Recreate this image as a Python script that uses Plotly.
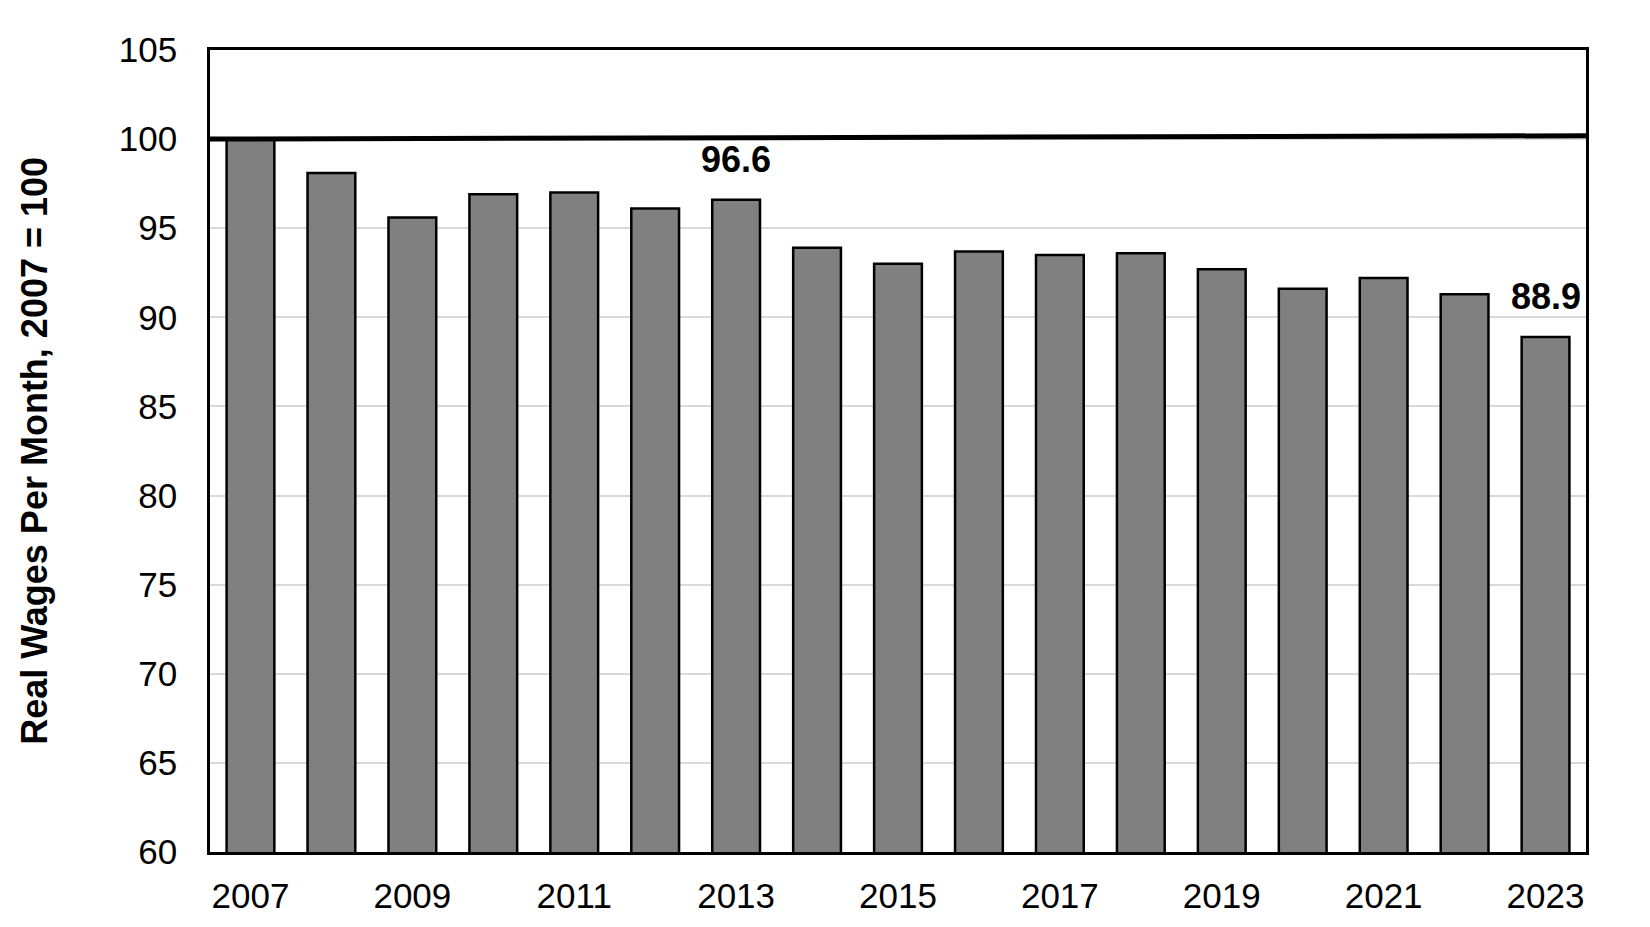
import plotly.graph_objects as go

years = list(range(2007, 2024))
wages = [100.0, 98.1, 95.6, 96.9, 97.0, 96.1, 96.6, 93.9, 93.0, 93.7, 93.5, 93.6, 92.7, 91.6, 92.2, 91.3, 88.9]
labeled_years = [2013, 2023]
label_texts = ["96.6", "88.9"]
y_ticks = [60, 65, 70, 75, 80, 85, 90, 95, 100, 105]
x_ticks = [2007, 2009, 2011, 2013, 2015, 2017, 2019, 2021, 2023]
baseline_start = 100.0
baseline_end = 100.19

FONT = "Liberation Sans, Arial, sans-serif"

fig = go.Figure()
fig.add_trace(go.Bar(
    x=years, y=wages,
    marker=dict(color="#808080", line=dict(color="black", width=2.5)),
    showlegend=False, hoverinfo="x+y",
))

for yr, txt in zip(labeled_years, label_texts):
    v = wages[years.index(yr)]
    fig.add_annotation(x=yr, y=v, text="<b>%s</b>" % txt, showarrow=False,
                       yanchor="middle", yshift=40,
                       font=dict(family=FONT, size=36, color="black"))

fig.add_shape(type="line", xref="paper", yref="y", x0=-0.002, x1=1.001,
              y0=baseline_start, y1=baseline_end,
              line=dict(color="black", width=5), layer="above")

fig.add_annotation(xref="paper", yref="paper", x=-0.128, y=0.5,
                   text="<b>Real Wages Per Month, 2007 = 100</b>", textangle=-90,
                   showarrow=False, xanchor="center", yanchor="middle",
                   font=dict(family=FONT, size=36, color="black"))

fig.update_layout(
    width=1650, height=927,
    margin=dict(l=210, r=64, t=50, b=75),
    paper_bgcolor="white", plot_bgcolor="white",
    bargap=0.41,
    font=dict(family=FONT, size=35, color="black"),
    xaxis=dict(range=[2006.5, 2023.5], tickvals=x_ticks, ticktext=[str(t) for t in x_ticks],
               showgrid=False, showline=True, linecolor="black", linewidth=2.5, mirror=True,
               ticks="", ticklabelstandoff=11, zeroline=False, automargin=False,
               tickfont=dict(family=FONT, size=35, color="black")),
    yaxis=dict(range=[60, 105], tickvals=y_ticks, showgrid=True, gridcolor="#d9d9d9", gridwidth=2,
               showline=True, linecolor="black", linewidth=2.5, mirror=True,
               ticks="", ticklabelstandoff=23, zeroline=False, automargin=False,
               tickfont=dict(family=FONT, size=35, color="black")),
)

fig.write_html("out.html")
